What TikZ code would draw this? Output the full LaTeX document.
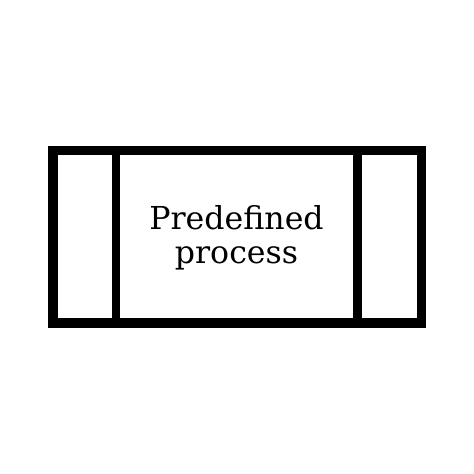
\documentclass[tikz,border=0pt]{standalone}
\usepackage{fontspec}
\setmainfont{DejaVu Serif}
\begin{document}
\begin{tikzpicture}[x=1pt,y=-1pt,
  frame/.style={draw=black,line width=9.2pt},
  divider/.style={draw=black,line width=8.5pt},
  label/.style={align=center,font=\fontsize{31.6}{34}\selectfont,inner sep=0pt}]
\useasboundingbox[fill=white] (0,0) rectangle (474,474);
\node[frame,minimum width=368.3pt,minimum height=172.7pt,inner sep=0pt] (box) at (237.15,236.65) {};
\coordinate (lt) at (116,150.3);
\coordinate (lb) at (116,323);
\coordinate (rt) at (357.7,150.3);
\coordinate (rb) at (357.7,323);
\draw[divider] (lt) -- (lb);
\draw[divider] (rt) -- (rb);
\node[label,anchor=base] (txt) at (236.5,263) {Predefined\\process};
\end{tikzpicture}
\end{document}
